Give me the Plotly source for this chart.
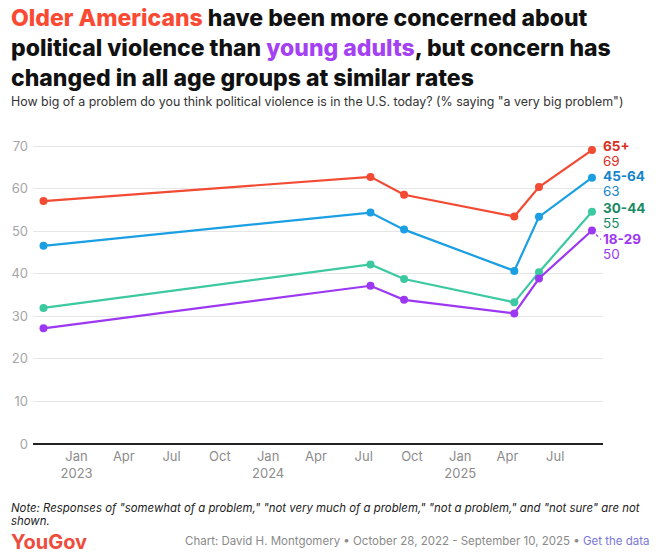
import plotly.graph_objects as go

# ---- data ----
dates = ["2022-10-30", "2024-07-14", "2024-09-16", "2025-04-14", "2025-05-31", "2025-09-09"]
series_names = ["65+", "45-64", "30-44", "18-29"]
v_65 = [57.1, 62.8, 58.6, 53.5, 60.4, 69.1]
v_45 = [46.6, 54.4, 50.4, 40.7, 53.4, 62.6]
v_30 = [32.0, 42.2, 38.8, 33.3, 40.4, 54.6]
v_18 = [27.2, 37.2, 33.9, 30.7, 38.9, 50.2]
x_tick_vals = ["2023-01-01", "2023-04-01", "2023-07-01", "2023-10-01", "2024-01-01", "2024-04-01",
               "2024-07-01", "2024-10-01", "2025-01-01", "2025-04-01", "2025-07-01"]
x_tick_text = ["Jan<br>2023", "Apr", "Jul", "Oct", "Jan<br>2024", "Apr", "Jul", "Oct", "Jan<br>2025", "Apr", "Jul"]
y_tick_vals = [0, 10, 20, 30, 40, 50, 60, 70]

line_colors = ["#f24a33", "#1a9fe3", "#3cc8a0", "#9d38f2"]
label_colors = ["#d8301f", "#1584cc", "#1a8a66", "#9d38f2"]
# label vertical offsets (px) for name and value
name_shift = [4.5, 2, 3.5, -8.5]
value_shift = [-10.5, -13, -11.5, -23.5]

values = [v_65, v_45, v_30, v_18]

FONT = "Inter"
fig = go.Figure()
for name, vals, col in zip(series_names, values, line_colors):
    fig.add_trace(go.Scatter(
        x=dates, y=vals, mode="lines+markers", name=name,
        line=dict(color=col, width=2.2),
        marker=dict(color=col, size=8),
        cliponaxis=False, hoverinfo="x+y", showlegend=False,
    ))

annotations = []
for name, vals, lc, ns, vs in zip(series_names, values, label_colors, name_shift, value_shift):
    annotations.append(dict(x=dates[-1], y=vals[-1], xref="x", yref="y", text="<b>%s</b>" % name,
                            showarrow=False, xanchor="left", yanchor="middle", xshift=9, yshift=ns,
                            font=dict(family=FONT, size=13.5, color=lc)))
    annotations.append(dict(x=dates[-1], y=vals[-1], xref="x", yref="y", text="%d" % round(vals[-1]),
                            showarrow=False, xanchor="left", yanchor="middle", xshift=9, yshift=vs,
                            font=dict(family=FONT, size=13.5, color=lc)))

# dotted leader for the shifted 18-29 label
shapes = [dict(type="line", xref="x", yref="y", xsizemode="pixel", ysizemode="pixel",
               xanchor=dates[-1], yanchor=v_18[-1], x0=4, x1=9, y0=-4, y1=-9,
               line=dict(color=line_colors[3], width=1.2, dash="dot"))]

# title
annotations.append(dict(
    x=0, y=1, xref="paper", yref="paper", xanchor="left", yanchor="top",
    xshift=-24, yshift=140, align="left", showarrow=False,
    text="<span style='color:#fa4a33'>Older Americans</span> have been more concerned about<br>"
         "political violence than <span style='color:#a441f2'>young adults</span>, but concern has<br>"
         "changed in all age groups at similar rates",
    font=dict(family=FONT, size=23, color="#111111", weight=800)))
annotations.append(dict(
    x=0, y=1, xref="paper", yref="paper", xanchor="left", yanchor="top",
    xshift=-24, yshift=50, align="left", showarrow=False,
    text="How big of a problem do you think political violence is in the U.S. today? (% saying \"a very big problem\")",
    font=dict(family=FONT, size=12.4, color="#333333")))
# note (two lines placed separately for tight leading)
annotations.append(dict(
    x=0, y=0, xref="paper", yref="paper", xanchor="left", yanchor="middle",
    xshift=-24, yshift=-64, align="left", showarrow=False,
    text="<i>Note: Responses of \"somewhat of a problem,\" \"not very much of a problem,\" \"not a problem,\" and \"not sure\" are not</i>",
    font=dict(family=FONT, size=11.4, color="#222222")))
annotations.append(dict(
    x=0, y=0, xref="paper", yref="paper", xanchor="left", yanchor="middle",
    xshift=-24, yshift=-77, align="left", showarrow=False,
    text="<i>shown.</i>",
    font=dict(family=FONT, size=11.4, color="#222222")))
# footer
annotations.append(dict(
    x=0, y=0, xref="paper", yref="paper", xanchor="left", yanchor="middle",
    xshift=-24, yshift=-98, showarrow=False,
    text="<b>YouGov</b>",
    font=dict(family=FONT, size=20, color="#ee4c3c")))
annotations.append(dict(
    x=1, y=0, xref="paper", yref="paper", xanchor="right", yanchor="middle",
    xshift=49, yshift=-97, showarrow=False,
    text="Chart: David H. Montgomery • October 28, 2022 - September 10, 2025 • <span style='color:#7a78d8'>Get the data</span>",
    font=dict(family=FONT, size=11.5, color="#8a8a8a")))

fig.update_layout(
    width=661, height=560,
    margin=dict(l=33, r=58, t=142, b=116),
    plot_bgcolor="white", paper_bgcolor="white",
    font=dict(family=FONT),
    annotations=annotations,
    shapes=shapes,
    xaxis=dict(
        range=["2022-10-10", "2025-09-30"], type="date",
        tickvals=x_tick_vals, ticktext=x_tick_text,
        showgrid=False, zeroline=False, showline=False, ticks="",
        ticklabelstandoff=3,
        tickfont=dict(family=FONT, size=13, color="#8c8c8c"),
    ),
    yaxis=dict(
        range=[0, 71], tickvals=y_tick_vals,
        showgrid=True, gridcolor="#e6e6e6", gridwidth=1,
        zeroline=True, zerolinecolor="#222222", zerolinewidth=1.5,
        showline=False, ticks="", ticklabelstandoff=4,
        tickfont=dict(family=FONT, size=13, color="#a6a6a6"),
    ),
)
fig.write_html("out.html", config={"displayModeBar": False},
               post_script="document.body.style.margin='0';document.body.style.overflow='hidden';")
